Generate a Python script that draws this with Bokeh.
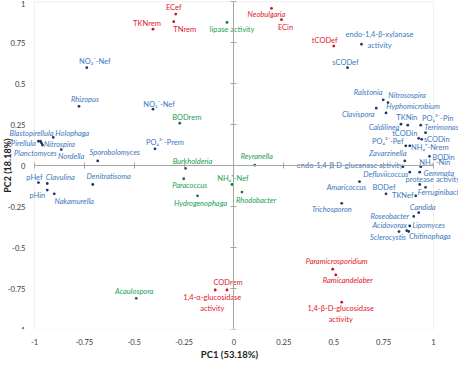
import math
from bokeh.plotting import figure
from bokeh.models import ColumnDataSource, LinearAxis, FixedTicker, BoxAnnotation, Label
from bokeh.embed import file_html
from bokeh.resources import INLINE
from bokeh.core.properties import value

# ---------------- data ----------------
ticks = [-1, -0.75, -0.5, -0.25, 0, 0.25, 0.5, 0.75, 1]
tick_labels = ["-1", "-0.75", "-0.5", "-0.25", "0", "0.25", "0.5", "0.75", "1"]

red_names = ["ECef", "TNrem", "TKNrem", "Neobulgaria", "ECin", "tCODef", "CODrem",
             "1,4-\u03b1-glucosidase\nactivity", "Paramicrosporidium", "Ramicandelaber",
             "1,4-\u03b2-D-glucosidase\nactivity"]
red_pc1 = [-0.292, -0.302, -0.406, 0.188, 0.238, 0.500, -0.035, -0.094, 0.495, 0.510, 0.540]
red_pc2 = [0.925, 0.879, 0.833, 0.960, 0.891, 0.730, -0.759, -0.759, -0.632, -0.667, -0.833]
red_italic = [0, 0, 0, 1, 0, 0, 0, 0, 1, 1, 0]

green_names = ["lipase activity", "BODrem", "Burkholderia", "Paracoccus", "Hydrogenophaga",
               "NH\u2084\u207a-Nef", "Rhodobacter", "Reyranella", "Acaulospora"]
green_pc1 = [-0.035, -0.272, -0.243, -0.252, -0.183, -0.010, 0.040, 0.104, -0.490]
green_pc2 = [0.874, 0.259, -0.017, -0.080, -0.184, -0.115, -0.161, 0.003, -0.810]
green_italic = [0, 0, 1, 1, 1, 0, 1, 1, 1]

blue_names = ["NO\u2082\u207b-Nef", "NO\u2083\u207b-Nef", "Rhizopus", "PO\u2084\u00b3\u207b-Prem",
              "Sporobolomyces", "Blastopirellula", "Pirellula", "Nitrospira", "Planctomyces",
              "Holophaga", "Nordella", "pHef", "Clavulina", "pHin", "Nakamurella", "Denitratisoma",
              "endo-1,4-\u03b2-xylanase\nactivity", "sCODef", "Ralstonia", "Nitrosospira",
              "Clavispora", "Hyphomicrobium", "TKNin", "PO\u2084\u00b3\u207b-Pin", "Caldilinea",
              "Terrimonas", "tCODin", "sCODin", "PO\u2084\u00b3\u207b-Pef", "NH\u2084\u207a-Nrem",
              "Zavarzinella", "BODin", "endo-1,4-\u03b2-D-glucanase activity", "NH\u2084\u207a-Nin",
              "Defluviicoccus", "Gemmata", "protease activity", "Ferruginibacter", "BODef", "TKNef",
              "Amaricoccus", "Trichosporon", "Candida", "Roseobacter", "Lipomyces", "Acidovorax",
              "Sclerocystis", "Chitinophaga"]
blue_pc1 = [-0.738, -0.406, -0.777, -0.396, -0.683, -0.970, -0.980, -0.960, -0.965,
            -0.906, -0.866, -0.980, -0.936, -0.936, -0.901, -0.708,
            0.639, 0.569, 0.748, 0.772, 0.713, 0.762, 0.871, 0.936, 0.837,
            0.960, 0.926, 0.941, 0.861, 0.881, 0.856, 0.980, 0.847, 0.936,
            0.881, 0.931, 0.931, 0.960, 0.762, 0.911, 0.629, 0.540, 0.926, 0.901,
            0.881, 0.866, 0.827, 0.876]
blue_pc2 = [0.598, 0.345, 0.362, 0.103, 0.029, 0.149, 0.149, 0.126, 0.138,
            0.172, 0.098, -0.103, -0.109, -0.149, -0.172, -0.115,
            0.741, 0.598, 0.402, 0.385, 0.351, 0.322, 0.247, 0.247, 0.253,
            0.201, 0.167, 0.161, 0.121, 0.121, 0.029, 0.057, -0.006, -0.006,
            -0.040, -0.040, -0.115, -0.132, -0.172, -0.184, -0.098, -0.230, -0.287, -0.310,
            -0.368, -0.397, -0.402, -0.402]
blue_italic = [0, 0, 1, 0, 1, 1, 1, 1, 1, 1, 1, 0, 1, 0, 1, 1,
               0, 0, 1, 1, 1, 1, 0, 0, 1, 1, 0, 0, 0, 0, 1, 0, 0, 0,
               1, 1, 0, 1, 0, 0, 1, 1, 1, 1, 1, 1, 1, 1]

# ---------------- label placement (screen pixels, layout only) ----------------
red_dx = [-2, 11, -6, -5, 4, -9, 1, -3, 4, 12, -1]
red_dy = [-7, 8, -6, 6, 8, -6, -8, 13, -8, 6, 12]
green_dx = [5, 7, 7, 6, 3, 1, 14, 2, -2]
green_dy = [7, -6, -7, 7, 8, -6, 8, -9, -7]
blue_dx = [8, 6, 6, 10, 17, -9, -15, 17, -6, 19, 10, -4, 13, -10, 20, 16,
           18, -2, -15, 19, -18, 27, -1, 17, -17, 16, -14, 15, -18, 20, -17, 14, -53, 14,
           -24, 19, 13, 16, -2, -13, -13, -10, 4, -24, 19, -17, -11, 21]
blue_dy = [-6, -5, -7, -6, -8, -8, 2, -1, 10, -4, 7, -5, -6, 5, 8, -8,
           -4, -5, -7, -7, 6, -6, -8, -7, 3, -5, -5, 0, -4, 2, -7, 1, -1, -4,
           2, 1, -5, 5, -6, 0, 6, 6, -5, 0, 0, -5, 6, 5]

RED, GREEN, BLUE = "#e0202e", "#21a152", "#3d78bd"
RED_DOT, GREEN_DOT, BLUE_DOT = "#c0141f", "#17703a", "#1d3a66"
GRID = "#a6a6a6"
FONT = "Lato"


def build(names, pc1, pc2, italic, dx, dy, color):
    return ColumnDataSource(dict(
        x=pc1, y=pc2, label=names, dx=dx, dy=dy,
        style=["italic" if i else "normal" for i in italic],
        color=[color] * len(names)))


lo, hi = ticks[0], ticks[-1]
# frame fills the figure horizontally; the [-1, 1] box sits inside it so labels can overhang
p = figure(width=458, height=362, x_range=(lo - 0.1704, hi + 0.1253), y_range=(lo, hi + 0.008),
           output_backend="svg", toolbar_location=None,
           min_border_left=0, min_border_right=0, min_border_top=0, min_border_bottom=0,
           background_fill_color="white", border_fill_color="white")
p.outline_line_color = None
p.grid.visible = False
p.yaxis.visible = False

xa = p.xaxis[0]
xa.ticker = FixedTicker(ticks=ticks)
xa.major_label_overrides = {t: l for t, l in zip(ticks, tick_labels)}
xa.axis_line_color = None
xa.major_tick_line_color = None
xa.minor_tick_line_color = None
xa.major_label_standoff = 3
xa.axis_label = "PC1 (53.18%)"
xa.axis_label_standoff = 1

# y tick labels drawn at x = -1
ya = LinearAxis(fixed_location=lo, ticker=FixedTicker(ticks=ticks),
                major_label_overrides={t: l for t, l in zip(ticks, tick_labels)},
                axis_line_color=None, major_tick_line_color=None, minor_tick_line_color=None,
                major_label_standoff=3)
p.add_layout(ya, "left")

for ax in (xa, ya):
    ax.major_label_text_font = FONT
    ax.major_label_text_font_size = "7.6px"
    ax.major_label_text_color = "#404040"
    ax.axis_label_text_font = FONT
    ax.axis_label_text_font_size = "9.5px"
    ax.axis_label_text_font_style = "bold"
    ax.axis_label_text_color = "#222222"

# y axis title, at the far left edge
p.add_layout(Label(x=1, y=0, x_units="screen", y_units="data", text="PC2 (18.18%)",
                   angle=math.pi / 2, text_align="center", text_baseline="top",
                   text_font=FONT, text_font_size="9px", text_font_style="bold",
                   text_color="#222222"))

# plot box
p.add_layout(BoxAnnotation(left=lo, right=hi, bottom=lo, top=hi, fill_alpha=0,
                           line_color="#cfcfcf", line_width=1))

# axes through the origin with crossing ticks
blank = {t: "" for t in ticks}
zx = LinearAxis(fixed_location=0, ticker=FixedTicker(ticks=ticks), bounds=(lo, hi),
                major_label_overrides=blank, axis_line_color=GRID,
                major_tick_line_color=GRID, major_tick_in=3, major_tick_out=3,
                minor_tick_line_color=None)
zy = LinearAxis(fixed_location=0, ticker=FixedTicker(ticks=ticks), bounds=(lo, hi),
                major_label_overrides=blank, axis_line_color=GRID,
                major_tick_line_color=GRID, major_tick_in=3, major_tick_out=3,
                minor_tick_line_color=None)
p.add_layout(zx, "below")
p.add_layout(zy, "left")

groups = [
    (build(red_names, red_pc1, red_pc2, red_italic, red_dx, red_dy, RED), RED_DOT),
    (build(green_names, green_pc1, green_pc2, green_italic, green_dx, green_dy, GREEN), GREEN_DOT),
    (build(blue_names, blue_pc1, blue_pc2, blue_italic, blue_dx, blue_dy, BLUE), BLUE_DOT),
]
for src, dot in groups:
    p.scatter(x="x", y="y", source=src, size=2.8, color=dot, line_color=None)
    p.text(x="x", y="y", text="label", source=src, x_offset="dx", y_offset="dy",
           text_color="color", text_font_style="style", text_font=value(FONT),
           text_font_size="7.5px", text_align="center", text_baseline="middle",
           text_line_height=1.2)

open("out.html", "w").write(file_html(p, INLINE))
